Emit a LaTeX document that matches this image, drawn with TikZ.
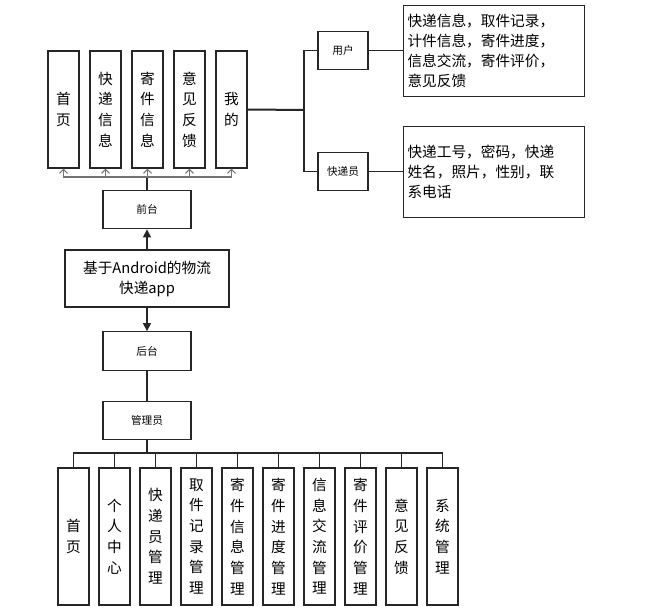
\documentclass[tikz,border=0pt]{standalone}
\usepackage{fontspec}
\setmainfont{Noto Sans CJK SC}
\usetikzlibrary{arrows.meta}
\begin{document}
\begin{tikzpicture}[x=0.75pt,y=-0.75pt,
  box/.style={draw=black!85,line width=0.8pt,inner sep=0pt,align=center},
  vb/.style={box,minimum width=23.25pt,minimum height=102.75pt,font=\fontsize{11pt}{15.5pt}\selectfont},
  vs/.style={box,minimum width=23.25pt,minimum height=87.75pt,font=\fontsize{11pt}{15.5pt}\selectfont},
  sb/.style={box,minimum width=66pt,minimum height=29pt,font=\fontsize{8pt}{10pt}\selectfont},
  ub/.style={box,minimum width=37.5pt,minimum height=29pt,font=\fontsize{8pt}{10pt}\selectfont},
  ib/.style={box,minimum width=136pt,minimum height=68.25pt,text width=130pt,align=left,anchor=north west,font=\fontsize{11pt}{15pt}\selectfont},
  ln/.style={draw=black!85,line width=0.8pt},
  tk/.style={draw=black!85,line width=1.5pt}]
\useasboundingbox (0,0) rectangle (652,613);
% top row
\node[vs] (a1) at (63.5,109.5) {首\\页};
\node[vs] (a2) at (105.5,109.5) {快\\递\\信\\息};
\node[vs] (a3) at (147.5,109.5) {寄\\件\\信\\息};
\node[vs] (a4) at (189.5,109.5) {意\\见\\反\\馈};
\node[vs] (a5) at (231.5,109.5) {我\\的};
\node[sb] (qt) at (147,209.5) {前台};
\node[box,minimum width=123pt,minimum height=42.75pt,font=\fontsize{11pt}{15pt}\selectfont] (main) at (147,278.5) {基于Android的物流\\快递app};
\node[sb] (ht) at (147,351) {后台};
\node[sb] (gl) at (147,420.5) {管理员};
\node[ub] (yh) at (343,50.5) {用户};
\node[ub] (kd) at (343,171.5) {快递员};
\node[ib] (t1) at (403,5) {快递信息，取件记录，\\计件信息，寄件进度，\\信息交流，寄件评价，\\意见反馈};
\node[ib] (t2) at (403,126) {快递工号，密码，快递\\姓名，照片，性别，联\\系电话};
% top connections
\coordinate (bus) at (147,177);
\draw[tk] (qt.north) -- (bus);
\draw[tk] (105.5,177) -- (189.5,177);
\foreach \n in {a1,a2,a3,a4,a5}
  \draw[ln,draw=black!55,-{Straight Barb[length=3pt,width=6pt]}] (bus) -| (\n.south);
\draw[ln,-{Triangle[length=6pt,width=6pt]}] (main.north) -- (qt.south);
\draw[ln,-{Triangle[length=6pt,width=6pt]}] (main.south) -- (ht.north);
\draw[ln] (ht.south) -- (gl.north);
% right
\coordinate (rj) at (304,110);
\draw[tk] (a5.east) -- (rj);
\draw[ln] (rj) |- (yh.west);
\draw[ln] (rj) |- (kd.west);
\draw[ln] (yh.east) -- (yh.east -| t1.west);
\draw[ln] (kd.east) -- (kd.east -| t2.west);
% bottom
\node[vb] (b1) at (73.5,536.5) {首\\页};
\node[vb] (b2) at (114.5,536.5) {个\\人\\中\\心};
\node[vb] (b3) at (155.5,536.5) {快\\递\\员\\管\\理};
\node[vb] (b4) at (196.5,536.5) {取\\件\\记\\录\\管\\理};
\node[vb] (b5) at (237.5,536.5) {寄\\件\\信\\息\\管\\理};
\node[vb] (b6) at (278.5,536.5) {寄\\件\\进\\度\\管\\理};
\node[vb] (b7) at (319.5,536.5) {信\\息\\交\\流\\管\\理};
\node[vb] (b8) at (360.5,536.5) {寄\\件\\评\\价\\管\\理};
\node[vb] (b9) at (401.5,536.5) {意\\见\\反\\馈};
\node[vb] (b10) at (442.5,536.5) {系\\统\\管\\理};
\coordinate (bb) at (147,453);
\draw[tk] (gl.south) -- (bb);
\foreach \n in {b1,b2,b3,b4,b5,b6,b7,b8,b9,b10}
  \draw[ln] (bb) -| (\n.north);
\end{tikzpicture}
\end{document}
